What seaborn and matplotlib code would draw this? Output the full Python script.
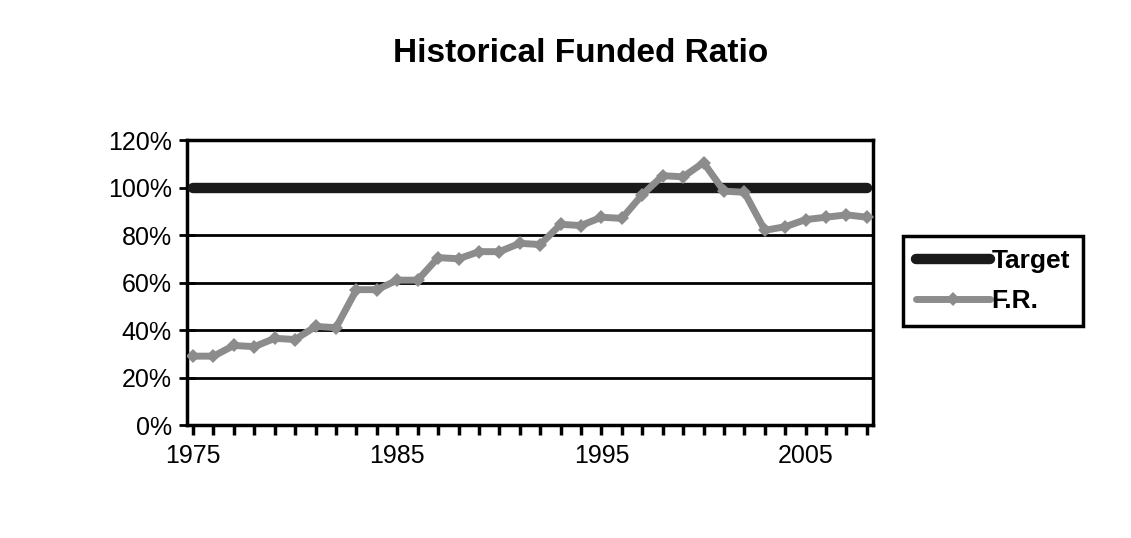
import pandas as pd
import numpy as np
import matplotlib
matplotlib.use("Agg")
import matplotlib.pyplot as plt
import seaborn as sns
from matplotlib.ticker import MultipleLocator, PercentFormatter

# data
years = list(range(1975, 2009))
funded_ratio = [29, 29, 33.5, 33, 36.5, 36, 41.5, 41, 57, 57,
                61, 61, 70.5, 70, 73, 73, 76.5, 76, 84.5, 84,
                87.5, 87, 97, 105, 104.5, 110.5, 98.5, 98, 82, 83.5,
                86.5, 87.5, 88.5, 87.5]
target = [100] * len(years)

df = pd.DataFrame({'year': years, 'Target': target, 'F.R.': funded_ratio})

sns.set_style('white')
plt.rcParams['font.family'] = ['Liberation Sans', 'DejaVu Sans']
plt.rcParams['text.color'] = 'black'
plt.rcParams['xtick.color'] = 'black'
plt.rcParams['ytick.color'] = 'black'

fig = plt.figure(figsize=(11.31, 5.38), dpi=100)
ax = fig.add_axes([0.1653, 0.2100, 0.6066, 0.5297])

# horizontal gridlines
for yv in range(20, 120, 20):
    ax.axhline(yv, color='black', linewidth=2, zorder=1)

sns.lineplot(data=df, x='year', y='Target', ax=ax, color='#1a1a1a',
             linewidth=7.5, label='Target', zorder=3)
sns.lineplot(data=df, x='year', y='F.R.', ax=ax, color='#8c8c8c',
             linewidth=5, marker='D', markersize=7, markeredgewidth=0,
             label='F.R.', zorder=4)

ax.set_xlim(1974.7, 2008.3)
ax.set_ylim(0, 120)
ax.yaxis.set_major_locator(MultipleLocator(20))
ax.yaxis.set_major_formatter(PercentFormatter(decimals=0))
ax.set_xticks([1975, 1985, 1995, 2005])
ax.xaxis.set_minor_locator(MultipleLocator(1))
ax.tick_params(axis='x', which='both', direction='out', length=7, width=2.5,
               labelsize=18, pad=7, bottom=True)
ax.tick_params(axis='y', direction='inout', length=12, width=2,
               labelsize=18, pad=5, left=True)
ax.set_xlabel('')
ax.set_ylabel('')
for s in ax.spines.values():
    s.set_visible(True)
    s.set_color('black')
    s.set_linewidth(2.5)

fig.suptitle('Historical Funded Ratio', x=0.513, y=0.93, fontsize=24,
             fontweight='bold')

leg = ax.legend(loc='center left', bbox_to_anchor=(1.044, 0.505),
                frameon=True, fancybox=False, framealpha=1,
                edgecolor='black', handlelength=2.8, handletextpad=0.05,
                borderpad=0.5, labelspacing=0.6, borderaxespad=0,
                prop={'weight': 'bold', 'size': 19})
leg.get_frame().set_linewidth(2.5)

fig.savefig('out.png', dpi=100)
